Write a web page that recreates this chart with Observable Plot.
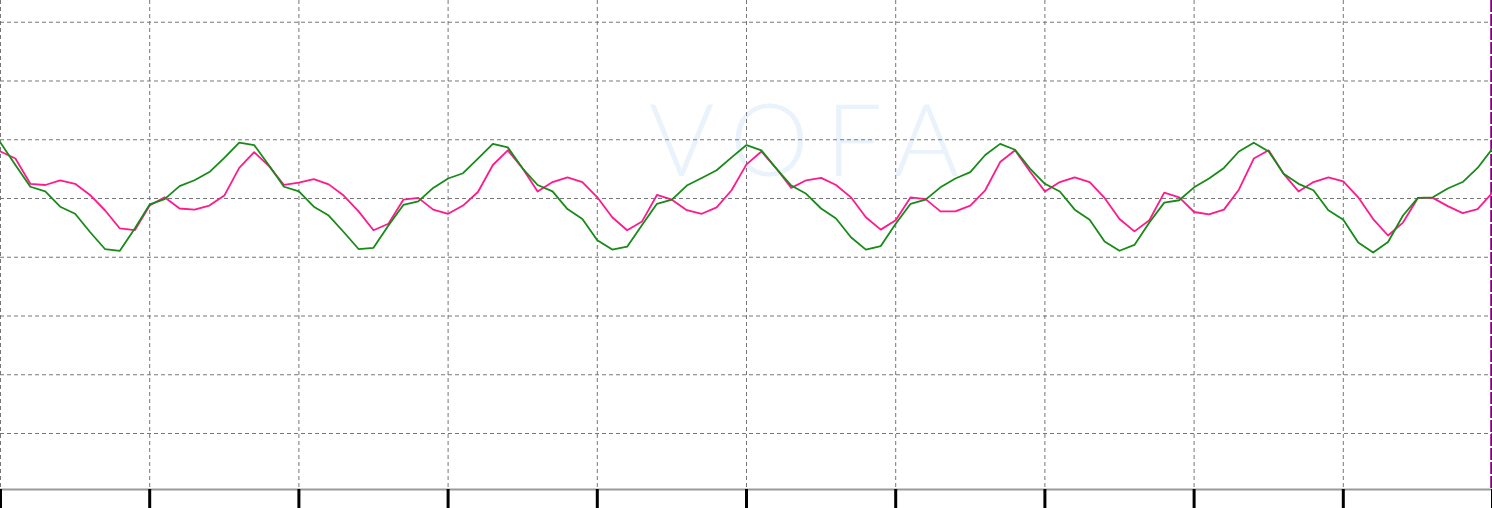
<!DOCTYPE html>
<html>
<head>
<meta charset="utf-8">
<script src="https://cdn.jsdelivr.net/npm/d3@7"></script>
<script src="https://cdn.jsdelivr.net/npm/@observablehq/plot@0.6"></script>
<style>
  html, body { margin: 0; padding: 0; background: #fff; }
  svg { display: block; }
</style>
</head>
<body>
<div id="chart"></div>
<script>
// sample index 0..100 (10 samples per x grid division)
const samples = d3.range(0, 101);

// channel 1 (green)
const greenValues = [
  0.95, 0.57, 0.20, 0.12, -0.14, -0.26, -0.57, -0.86, -0.89, -0.51,
  -0.10, -0.01, 0.21, 0.31, 0.45, 0.69, 0.95, 0.91, 0.56, 0.20,
  0.12, -0.14, -0.29, -0.57, -0.86, -0.84, -0.46, -0.11, -0.05, 0.18,
  0.34, 0.43, 0.68, 0.93, 0.87, 0.51, 0.23, 0.12, -0.18, -0.35,
  -0.71, -0.87, -0.82, -0.45, -0.09, -0.02, 0.22, 0.35, 0.48, 0.70,
  0.91, 0.82, 0.51, 0.22, 0.08, -0.17, -0.34, -0.66, -0.87, -0.81,
  -0.43, -0.09, -0.02, 0.19, 0.34, 0.45, 0.74, 0.93, 0.83, 0.51,
  0.25, 0.12, -0.19, -0.36, -0.73, -0.89, -0.79, -0.41, -0.07, -0.03,
  0.19, 0.34, 0.52, 0.80, 0.95, 0.80, 0.42, 0.25, 0.14, -0.20,
  -0.36, -0.75, -0.92, -0.74, -0.29, 0.01, 0.02, 0.17, 0.28, 0.52,
  0.85
];

// channel 2 (pink)
const pinkValues = [
  0.80, 0.68, 0.25, 0.23, 0.31, 0.25, 0.06, -0.20, -0.51, -0.54,
  -0.12, 0.02, -0.17, -0.19, -0.12, 0.05, 0.52, 0.79, 0.55, 0.23,
  0.27, 0.33, 0.24, 0.05, -0.22, -0.54, -0.43, -0.02, 0.01, -0.19,
  -0.26, -0.12, 0.11, 0.57, 0.82, 0.51, 0.12, 0.28, 0.36, 0.28,
  0.02, -0.32, -0.54, -0.39, 0.06, -0.02, -0.20, -0.26, -0.15, 0.14,
  0.58, 0.80, 0.51, 0.18, 0.31, 0.35, 0.23, 0.02, -0.32, -0.53,
  -0.37, 0.02, -0.01, -0.22, -0.22, -0.12, 0.14, 0.62, 0.82, 0.46,
  0.12, 0.28, 0.36, 0.28, 0.01, -0.35, -0.56, -0.37, 0.10, 0.02,
  -0.23, -0.27, -0.19, 0.15, 0.68, 0.82, 0.42, 0.12, 0.28, 0.36,
  0.29, 0.02, -0.35, -0.63, -0.41, 0.01, 0.01, -0.13, -0.25, -0.18,
  0.10
];

const xTicks = d3.range(0, 101, 10);
const yTicks = [-4, -3, -2, -1, 0, 1, 2, 3];
const watermark = ["VOFA"];

const greenRows = samples.map((s, i) => ({ x: s, v: greenValues[i] }));
const pinkRows = samples.map((s, i) => ({ x: s, v: pinkValues[i] }));

const chart = Plot.plot({
  width: 1492,
  height: 508,
  marginTop: 0,
  marginRight: 0,
  marginBottom: 19,
  marginLeft: 0,
  style: { background: "#fff", overflow: "visible" },
  x: { domain: [0, 100], ticks: xTicks, label: null, axis: null },
  y: { domain: [-4.953, 3.37], ticks: yTicks, label: null, axis: null },
  marks: [
    Plot.text(watermark, {
      text: d => d,
      frameAnchor: "top-left",
      dx: 812,
      dy: 143,
      fontSize: 100,
      fontWeight: 300,
      fontFamily: "Lato, Roboto, 'Noto Sans', sans-serif",
      fill: "#eaf2fc",
      textAnchor: "middle",
      lineAnchor: "middle"
    }),
    Plot.gridX(xTicks, { stroke: "#777", strokeOpacity: 1, strokeWidth: 1, strokeDasharray: "4,3" }),
    Plot.gridY(yTicks, { stroke: "#777", strokeOpacity: 1, strokeWidth: 1, strokeDasharray: "4,3" }),
    Plot.ruleX([100], { stroke: "#800080", strokeWidth: 2.5, strokeDasharray: "12,2", dx: -1 }),
    Plot.line(pinkRows, { x: "x", y: "v", stroke: "#ff1a8c", strokeWidth: 1.8, curve: "linear" }),
    Plot.line(greenRows, { x: "x", y: "v", stroke: "#178a17", strokeWidth: 1.8, curve: "linear" }),
    Plot.frame({ anchor: "bottom", stroke: "#9a9a9a", strokeWidth: 2 }),
    Plot.axisX(xTicks, { tickSize: 19, tickFormat: () => "", stroke: "#000", strokeWidth: 3, label: null })
  ]
});
// widen the watermark's letter spacing
chart.querySelectorAll("text").forEach(t => {
  if (t.textContent === "VOFA") t.setAttribute("letter-spacing", "17");
});
document.getElementById("chart").appendChild(chart);
</script>
</body>
</html>
